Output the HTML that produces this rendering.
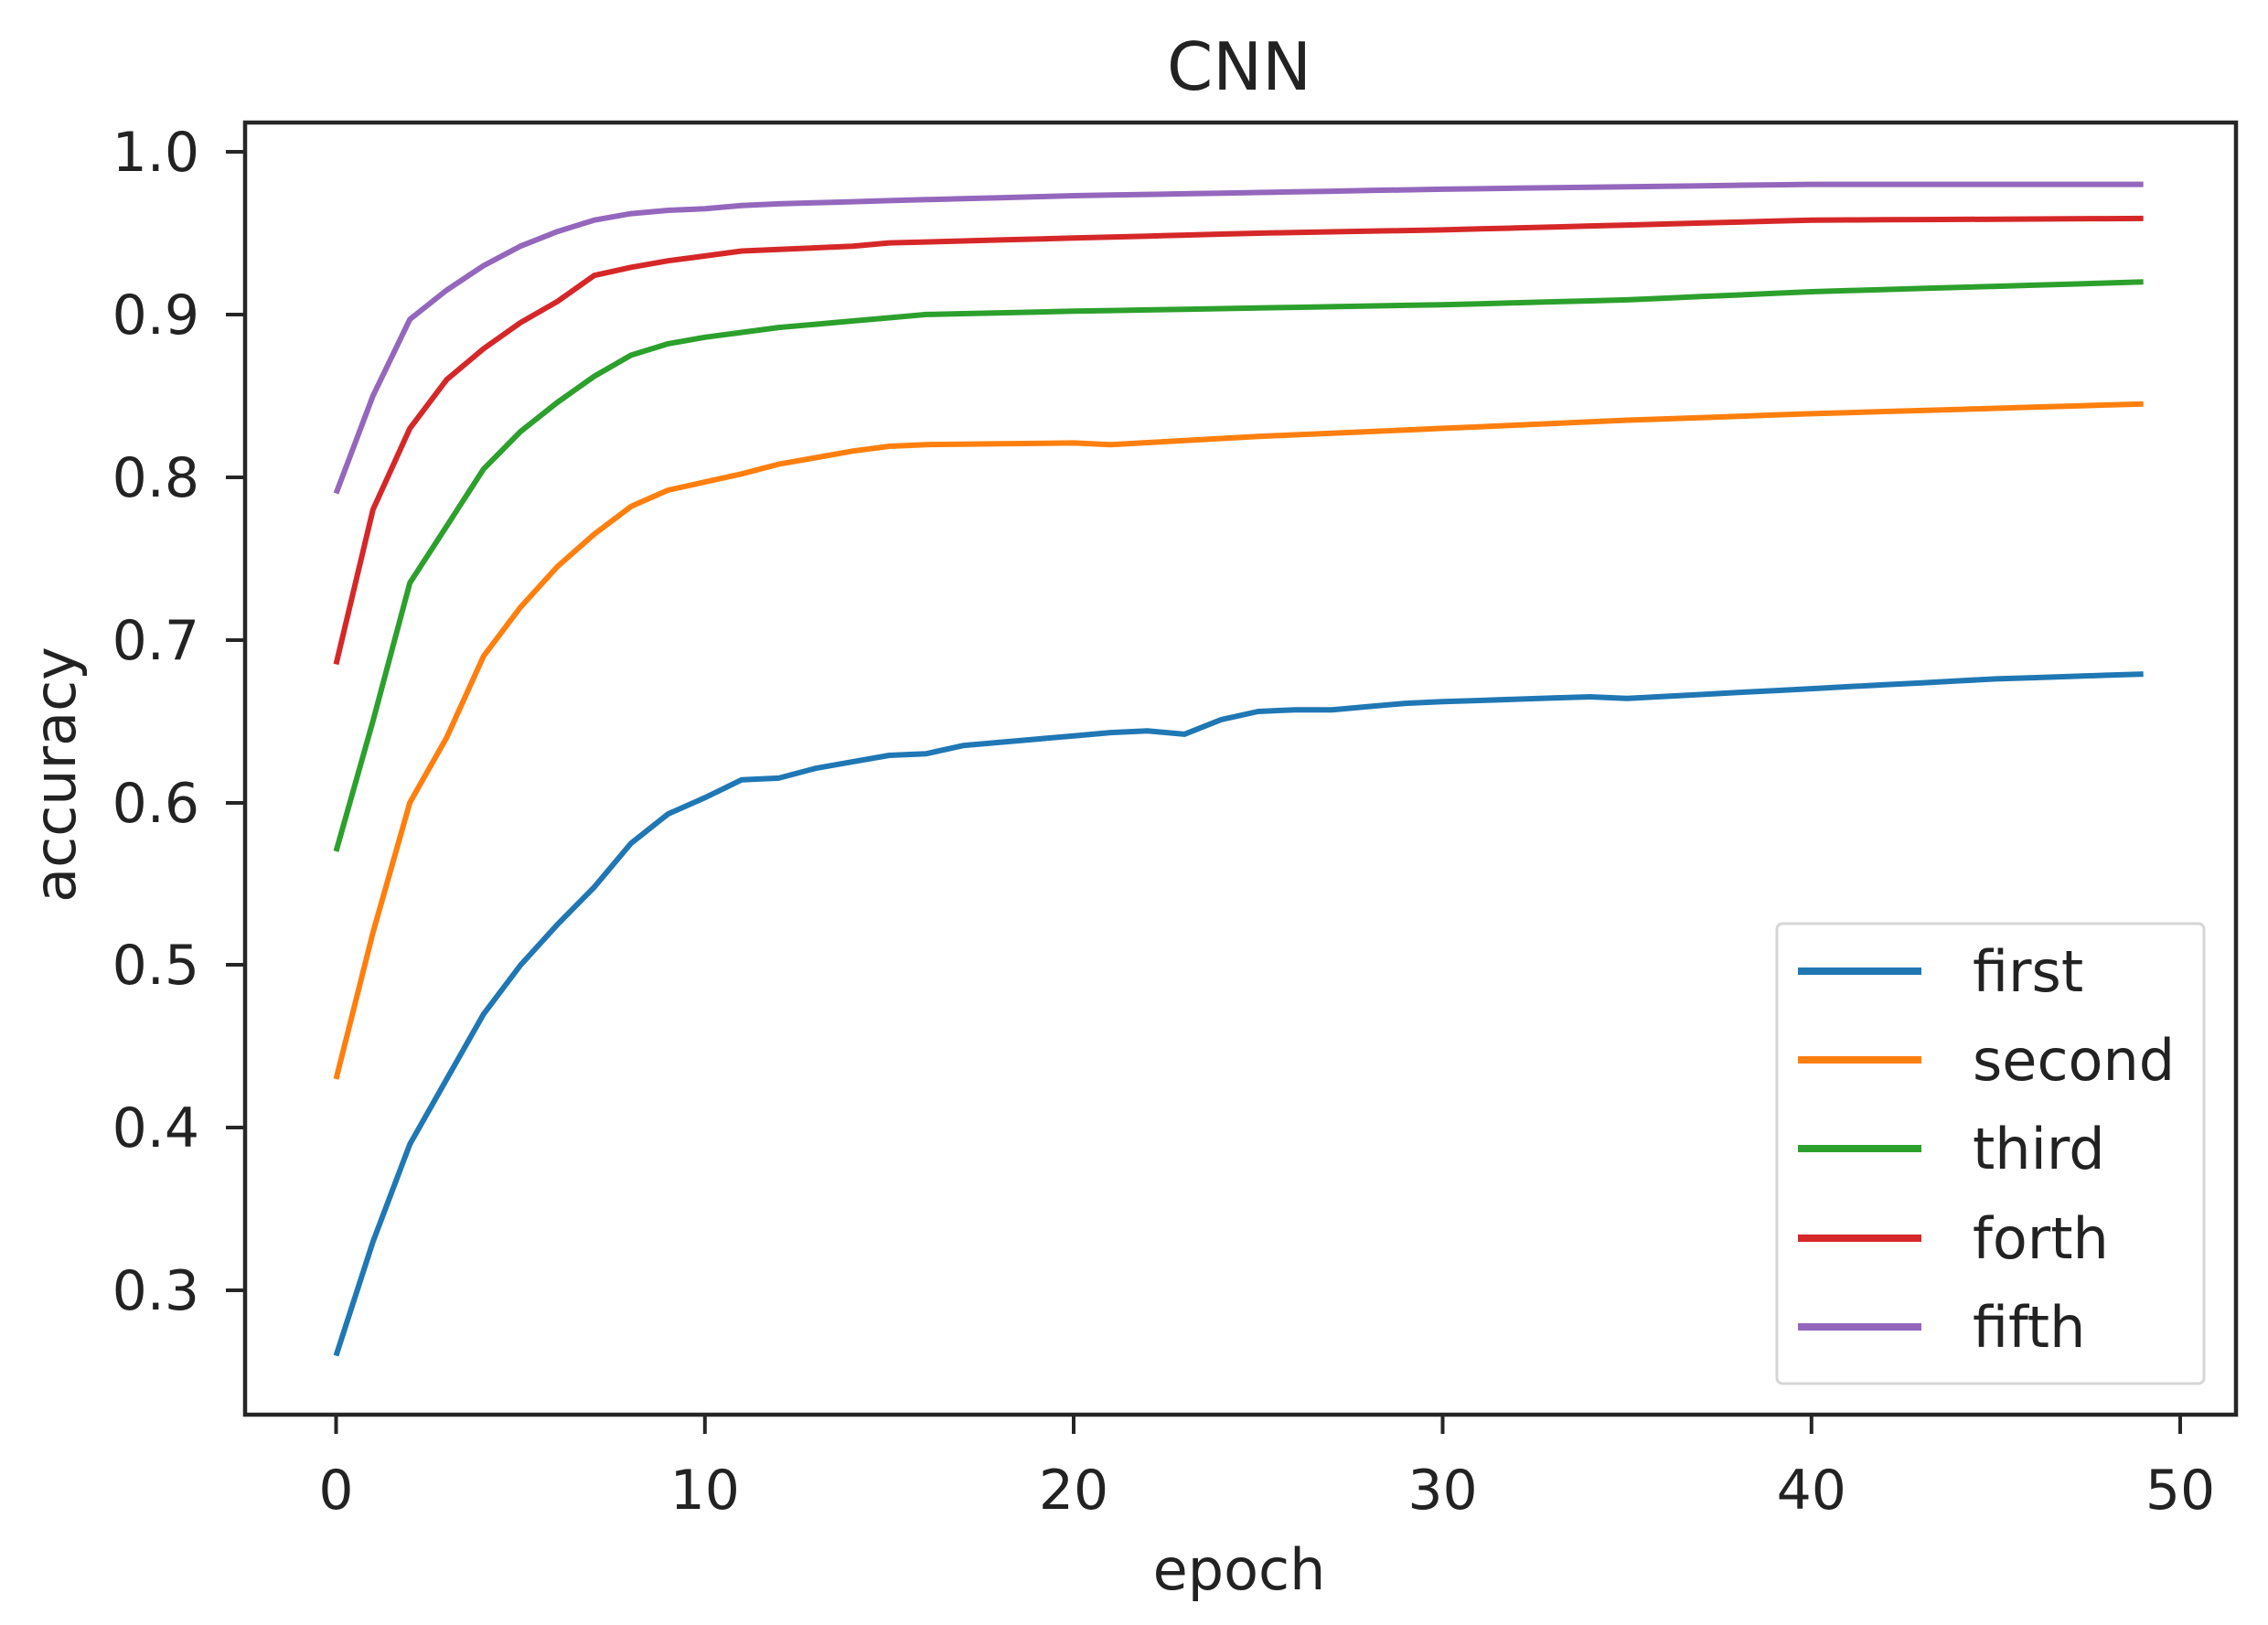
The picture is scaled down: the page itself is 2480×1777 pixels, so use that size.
<!DOCTYPE html>
<html><head><style>
html,body{margin:0;padding:0;background:#fff;}
svg text{font-family:"DejaVu Sans","Liberation Sans",sans-serif;fill:#222;}
</style></head><body>
<svg id="s" width="2480" height="1772" viewBox="0 0 2480 1772" xmlns="http://www.w3.org/2000/svg">
<rect width="2480" height="1772" fill="#fff"/>
<text x="1355" y="98" font-size="72" text-anchor="middle">CNN</text>
<g id="series" fill="none" stroke-width="6" stroke-linejoin="round"></g>
<rect x="268" y="134" width="2177" height="1413" fill="none" stroke="#262626" stroke-width="4.5"/>
<g stroke="#262626" stroke-width="4">
<line x1="247" x2="268" y1="166" y2="166"/><line x1="247" x2="268" y1="344" y2="344"/>
<line x1="247" x2="268" y1="522" y2="522"/><line x1="247" x2="268" y1="700" y2="700"/>
<line x1="247" x2="268" y1="878" y2="878"/><line x1="247" x2="268" y1="1055" y2="1055"/>
<line x1="247" x2="268" y1="1233" y2="1233"/><line x1="247" x2="268" y1="1411" y2="1411"/>
<line y1="1547" y2="1568" x1="367.5" x2="367.5"/><line y1="1547" y2="1568" x1="770.8" x2="770.8"/>
<line y1="1547" y2="1568" x1="1174" x2="1174"/><line y1="1547" y2="1568" x1="1577.5" x2="1577.5"/>
<line y1="1547" y2="1568" x1="1980.8" x2="1980.8"/><line y1="1547" y2="1568" x1="2384" x2="2384"/>
</g>
<g font-size="60" text-anchor="end">
<text x="218" y="187">1.0</text><text x="218" y="365">0.9</text><text x="218" y="543">0.8</text>
<text x="218" y="721">0.7</text><text x="218" y="899">0.6</text><text x="218" y="1076">0.5</text>
<text x="218" y="1254">0.4</text><text x="218" y="1432">0.3</text>
</g>
<g font-size="60" text-anchor="middle">
<text x="367.5" y="1650">0</text><text x="770.8" y="1650">10</text><text x="1174" y="1650">20</text>
<text x="1577.5" y="1650">30</text><text x="1980.8" y="1650">40</text><text x="2384" y="1650">50</text>
</g>
<text x="1355" y="1738" font-size="62" text-anchor="middle">epoch</text>
<text transform="translate(82,847) rotate(-90)" font-size="62" text-anchor="middle">accuracy</text>
<rect x="1943" y="1010" width="467" height="503" rx="6" fill="#fff" fill-opacity="0.8" stroke="#d6d6d6" stroke-width="3"/>
<g stroke-width="8">
<line x1="1966" x2="2101" y1="1062" y2="1062" stroke="#1f77b4"/>
<line x1="1966" x2="2101" y1="1159" y2="1159" stroke="#ff7f0e"/>
<line x1="1966" x2="2101" y1="1256" y2="1256" stroke="#2ca02c"/>
<line x1="1966" x2="2101" y1="1354" y2="1354" stroke="#d62728"/>
<line x1="1966" x2="2101" y1="1451" y2="1451" stroke="#9467bd"/>
</g>
<g font-size="62">
<text x="2157" y="1084">first</text><text x="2157" y="1181">second</text>
<text x="2157" y="1278">third</text><text x="2157" y="1376">forth</text><text x="2157" y="1473">fifth</text>
</g>
</svg>
<script>
var S=[
["#1f77b4",{0:.26,1:.33,2:.39,3:.43,4:.47,5:.50,6:.525,7:.548,8:.575,9:.593,10:.603,11:.614,12:.615,13:.621,14:.625,15:.629,16:.630,17:.635,18:.637,19:.639,20:.641,21:.643,22:.644,23:.642,24:.651,25:.656,26:.657,27:.657,28:.659,29:.661,30:.662,34:.665,35:.664,40:.670,45:.676,49:.679}],
["#ff7f0e",{0:.43,1:.52,2:.60,3:.64,4:.69,5:.72,6:.745,7:.765,8:.782,9:.792,10:.797,11:.802,12:.808,13:.812,14:.816,15:.819,16:.820,20:.821,21:.820,25:.825,30:.830,35:.835,40:.839,49:.845}],
["#2ca02c",{0:.57,1:.65,2:.735,3:.77,4:.805,5:.828,6:.846,7:.862,8:.875,9:.882,10:.886,11:.889,12:.892,13:.894,14:.896,15:.898,16:.90,20:.902,25:.904,30:.906,35:.909,40:.914,49:.920}],
["#d62728",{0:.685,1:.78,2:.83,3:.86,4:.879,5:.895,6:.908,7:.924,8:.929,9:.933,10:.936,11:.939,12:.940,13:.941,14:.942,15:.944,20:.947,25:.950,30:.952,35:.955,40:.958,49:.959}],
["#9467bd",{0:.79,1:.85,2:.897,3:.915,4:.93,5:.942,6:.951,7:.958,8:.962,9:.964,10:.965,11:.967,12:.968,15:.970,20:.973,25:.975,30:.977,40:.980,49:.980}]];
var g=document.getElementById("series");
S.forEach(function(s){var k=Object.keys(s[1]).map(Number).sort(function(a,b){return a-b});var pts=[];
for(var e=0;e<50;e++){var v;if(s[1][e]!==undefined)v=s[1][e];else{var a=0,b=49;k.forEach(function(x){if(x<e)a=x;});for(var i=k.length-1;i>=0;i--)if(k[i]>e)b=k[i];v=s[1][a]+(s[1][b]-s[1][a])*(e-a)/(b-a);}
pts.push((367.5+e*40.33).toFixed(1)+","+(166+(1-v)*1779).toFixed(1));}
var p=document.createElementNS("http://www.w3.org/2000/svg","polyline");p.setAttribute("points",pts.join(" "));p.setAttribute("stroke",s[0]);g.appendChild(p);});
</script>
</body></html>
